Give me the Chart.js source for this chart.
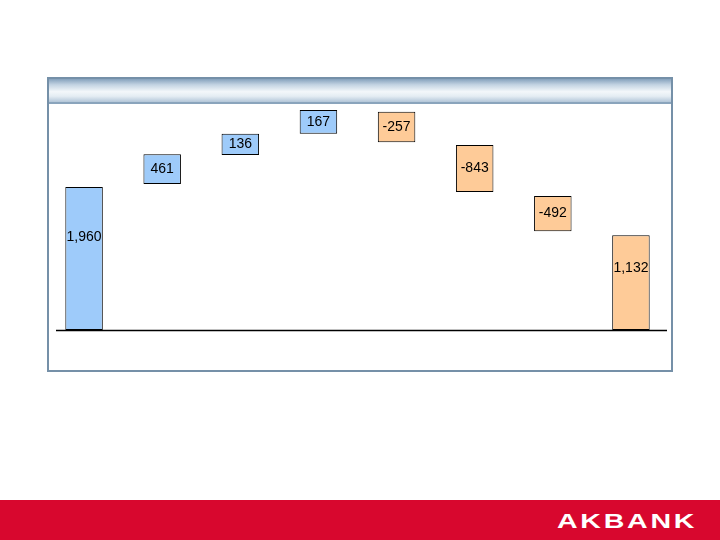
<!DOCTYPE html>
<html>
<head>
<meta charset="utf-8">
<script src="https://cdn.jsdelivr.net/npm/chart.js@4/dist/chart.umd.min.js"></script>
<style>
  html, body { margin: 0; padding: 0; background: #fff; }
  #wrap { position: relative; width: 720px; height: 540px; overflow: hidden; }
  #frame {
    position: absolute; left: 47px; top: 77px; width: 622px; height: 291px;
    border: 2px solid #7590a8; background: #fff;
  }
  #band {
    position: absolute; left: 0; top: 0; right: 0; height: 23px;
    border-bottom: 2px solid #8aa4bc;
    background: linear-gradient(to bottom, #86a2bd 0%, #c3d3e2 25%, #f3f7fa 55%, #e4ecf3 75%, #b3c6d8 100%);
  }
  #footer {
    position: absolute; left: 0; top: 500px; width: 720px; height: 40px; background: #d8072e;
  }
  #logo {
    position: absolute; left: 557px; top: 509px; color: #fff;
    font: bold 21px "Liberation Sans", Arial, sans-serif; letter-spacing: 2px;
    transform: scaleX(1.36); transform-origin: left top;
  }
  canvas { position: absolute; left: 0; top: 0; }
</style>
</head>
<body>
<div id="wrap">
  <div id="frame"><div id="band"></div></div>
  <div id="footer"></div>
  <div id="logo">AKBANK</div>
  <canvas id="grafic" width="720" height="540"></canvas>
</div>
<script>
// etichete afisate pe fiecare bara
const etichete = ['1,960', '461', '136', '167', '-257', '-843', '-492', '1,132'];
// capetele barelor (estimate din imagine, aceeasi unitate ca axa)
const inceput = [0, 2000, 2400, 2690, 2575, 1890, 1355, 0];
const sfarsit = [1960, 2410, 2690, 3015, 2990, 2535, 1835, 1300];
const categorii = ['', '', '', '', '', '', '', ''];
const culori = ['#9ecbfa', '#9ecbfa', '#9ecbfa', '#9ecbfa', '#fecb98', '#fecb98', '#fecb98', '#fecb98'];

const pluginEtichete = {
  id: 'etichete',
  beforeDatasetsDraw(chart) {
    // linia de baza
    const ctx = chart.ctx;
    const y0 = Math.round(chart.scales.y.getPixelForValue(0)) + 0.5;
    ctx.save();
    ctx.strokeStyle = '#000';
    ctx.lineWidth = 1.3;
    ctx.beginPath();
    ctx.moveTo(chart.chartArea.left + 11, y0);
    ctx.lineTo(chart.chartArea.right - 3, y0);
    ctx.stroke();
    ctx.restore();
  },
  afterDatasetsDraw(chart) {
    const ctx = chart.ctx;
    ctx.save();
    ctx.font = '14px "Liberation Sans", Arial, sans-serif';
    ctx.fillStyle = '#000';
    ctx.textAlign = 'center';
    ctx.textBaseline = 'middle';
    chart.getDatasetMeta(0).data.forEach((bara, i) => {
      const sus = Math.min(bara.y, bara.base);
      const jos = Math.max(bara.y, bara.base);
      let y = (sus + jos) / 2;
      if (inceput[i] === 0) y = sus + (jos - sus) * 0.35;
      ctx.fillText(etichete[i], bara.x, y);
    });
    ctx.restore();
  }
};

window.addEventListener('load', function () {
  new Chart(document.getElementById('grafic'), {
    type: 'bar',
    data: {
      labels: categorii,
      datasets: [{
        data: inceput.map((v, i) => [v, sfarsit[i]]),
        backgroundColor: culori,
        borderColor: '#000',
        borderWidth: 1,
        borderSkipped: false,
        barPercentage: 0.48,
        categoryPercentage: 1
      }]
    },
    options: {
      responsive: false,
      animation: false,
      layout: { padding: { left: 45, right: 50, top: 102, bottom: 210 } },
      plugins: { legend: { display: false }, tooltip: { enabled: false } },
      scales: {
        x: { display: false },
        y: { display: false, min: 0, max: 3125 }
      }
    },
    plugins: [pluginEtichete]
  });
});
</script>
</body>
</html>
